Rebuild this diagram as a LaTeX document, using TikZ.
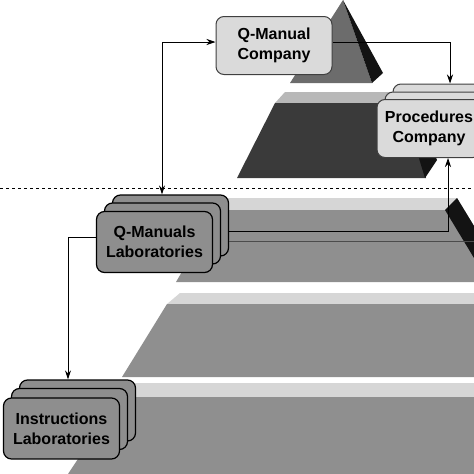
\documentclass[tikz,border=0pt]{standalone}
\usepackage{fontspec}
\setmainfont{Liberation Sans}
\usetikzlibrary{arrows.meta}
\definecolor{boxlight}{HTML}{DADADA}
\definecolor{boxlab}{HTML}{8E8E8E}
\definecolor{pyrmid}{HTML}{6C6C6C}
\definecolor{pyrdark}{HTML}{3A3A3A}
\definecolor{pyrside}{HTML}{131313}
\definecolor{pyrstripe}{HTML}{B8B8B8}
\definecolor{lowface}{HTML}{8F8F8F}
\definecolor{lowstripe}{HTML}{D6D6D6}
\begin{document}
\begin{tikzpicture}[x=1pt,y=-1pt,
  compbox/.style={draw=black!75,line width=1pt,fill=boxlight,rounded corners=8pt,
    minimum width=116pt,minimum height=58pt,align=center,font=\bfseries\fontsize{16}{20}\selectfont,inner sep=0pt},
  labbox/.style={draw=black,line width=1.2pt,fill=boxlab,rounded corners=8pt,
    minimum width=116pt,minimum height=61pt,align=center,font=\bfseries\fontsize{16}{20}\selectfont,inner sep=0pt},
  conn/.style={line width=0.8pt,draw=black},
  tip/.tip={Stealth[length=9pt,width=6pt]}]
\useasboundingbox (0,0) rectangle (474,474);
% ---- upper pyramid
\fill[pyrmid] (343,0) -- (290,83) -- (372,83) -- cycle;
\fill[pyrside] (343,0) -- (383,73) -- (372,83) -- cycle;
\fill[pyrstripe] (285,92) -- (408,92) -- (402,103) -- (275,103) -- cycle;
\fill[pyrdark] (275,103) -- (237,178) -- (426,178) -- (402,103) -- cycle;
\fill[pyrside] (408,92) -- (437,160) -- (425,178) -- (402,103) -- cycle;
% ---- lower pyramid
\fill[lowstripe] (225,198) -- (457,198) -- (445,210) -- (218,210) -- cycle;
\fill[lowface] (218,210) -- (176,282) -- (474,282) -- (474,226) -- (457,198) -- (445,210) -- cycle;
\fill[pyrside] (445,210) -- (457,198) -- (474,226) -- (474,258) -- cycle;
\fill[lowstripe] (180,293) -- (474,293) -- (474,304) -- (167,304) -- cycle;
\fill[lowface] (167,304) -- (122,377) -- (474,377) -- (474,304) -- cycle;
\fill[lowstripe] (128,383) -- (474,383) -- (474,397) -- (119,397) -- cycle;
\fill[lowface] (119,397) -- (68,474) -- (474,474) -- (474,397) -- cycle;
% ---- dotted separator
\coordinate (dl) at (0,188);
\coordinate (dr) at (474,188);
\draw[line width=1pt,dash pattern=on 3pt off 3pt] (dl) -- (dr);
% ---- boxes
\node[compbox] (qmc) at (274,45.5) {Q-Manual\\Company};
\node[compbox,minimum width=104pt] (pc3) at (445,113) {};
\node[compbox,minimum width=104pt] (pc2) at (437,121) {};
\node[compbox,minimum width=104pt] (pc) at (429,128.5) {Procedures\\Company};
\node[labbox] (qml3) at (170.5,225.5) {};
\node[labbox] (qml2) at (162.5,233.5) {};
\node[labbox] (qml) at (154.5,242) {Q-Manuals\\Laboratories};
\node[labbox] (il3) at (77.5,410.5) {};
\node[labbox] (il2) at (69.5,419) {};
\node[labbox] (il) at (61.5,428.5) {Instructions\\Laboratories};
% ---- connectors
\coordinate (k1) at (162,42);
\coordinate (k2) at (450,42);
\coordinate (k3) at (228,231);
\coordinate (k4) at (448,231);
\coordinate (k5) at (68,237);
\coordinate (k6) at (474,241);
\draw[conn,tip-tip] (qml3.north -| k1) |- (qmc.west |- k1);
\draw[conn,-tip] (qmc.east |- k2) -| (pc3.north -| k2);
\draw[conn,-tip] (qml3.east |- k3) -| (pc.south -| k4);
\draw[conn,-tip] (qml.west |- k5) -| (il3.north -| k5);
\draw[line width=0.6pt,black!70] (qml3.east |- k6) -- (k6);
\end{tikzpicture}
\end{document}
